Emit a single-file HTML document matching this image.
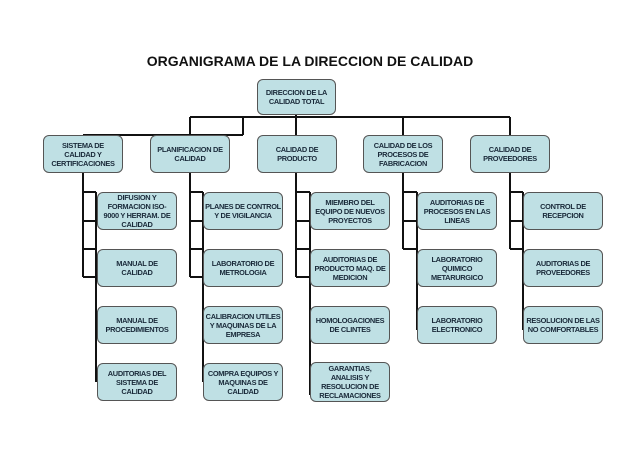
<!DOCTYPE html>
<html><head><meta charset="utf-8"><style>
body{margin:0;background:#fff;width:640px;height:452px;overflow:hidden;position:relative;font-family:"Liberation Sans",sans-serif}
.t{position:absolute;left:0;width:620px;top:53px;text-align:center;font-weight:bold;font-size:14px;color:#111}
.b{position:absolute;width:77px;height:36px;background:#bfe0e4;border:1.5px solid #555;border-radius:6px;box-sizing:border-box;display:flex;align-items:center;justify-content:center;text-align:center;font-weight:bold;font-size:7.4px;line-height:9px;color:#1a2a3a;z-index:2;white-space:nowrap;letter-spacing:-0.3px}
svg{position:absolute;left:0;top:0}
</style></head><body>
<div class="t">ORGANIGRAMA DE LA DIRECCION DE CALIDAD</div>
<svg width="640" height="452" stroke="#111" stroke-width="2" fill="none">
<path d="M296 115V117M190 117H510M190 117V135M296 117V135M403 117V135M510 117V135M243 117V135M83 135H243"/>
<path d="M83 173V277M96 192V382M83 192H96M83 221H96M83 249H96M83 277H96"/>
<path d="M190 173V277M203 192V382M190 192H203M190 221H203M190 249H203M190 277H203"/>
<path d="M296 173V277M310 192V395M296 192H310M296 221H310M296 249H310M296 277H310"/>
<path d="M403 173V249M417 192V330M403 192H417M403 221H417M403 249H417"/>
<path d="M510 173V249M523 192V330M510 192H523M510 221H523M510 249H523"/>
</svg>
<div class="b" style="left:257px;top:79px;width:79px">DIRECCION DE LA<br>CALIDAD TOTAL</div>
<div class="b" style="left:43px;top:135px;width:80px;height:38px">SISTEMA DE<br>CALIDAD Y<br>CERTIFICACIONES</div>
<div class="b" style="left:150px;top:135px;width:80px;height:38px">PLANIFICACION DE<br>CALIDAD</div>
<div class="b" style="left:257px;top:135px;width:80px;height:38px">CALIDAD DE<br>PRODUCTO</div>
<div class="b" style="left:363px;top:135px;width:80px;height:38px">CALIDAD DE LOS<br>PROCESOS DE<br>FABRICACION</div>
<div class="b" style="left:470px;top:135px;width:80px;height:38px">CALIDAD DE<br>PROVEEDORES</div>

<div class="b" style="left:97px;top:192px;width:80px;height:38px">DIFUSION Y<br>FORMACION ISO-<br>9000 Y HERRAM. DE<br>CALIDAD</div>
<div class="b" style="left:97px;top:249px;width:80px;height:38px">MANUAL DE<br>CALIDAD</div>
<div class="b" style="left:97px;top:306px;width:80px;height:38px">MANUAL DE<br>PROCEDIMIENTOS</div>
<div class="b" style="left:97px;top:363px;width:80px;height:38px">AUDITORIAS DEL<br>SISTEMA DE<br>CALIDAD</div>

<div class="b" style="left:203px;top:192px;width:80px;height:38px">PLANES DE CONTROL<br>Y DE VIGILANCIA</div>
<div class="b" style="left:203px;top:249px;width:80px;height:38px">LABORATORIO DE<br>METROLOGIA</div>
<div class="b" style="left:203px;top:306px;width:80px;height:38px">CALIBRACION UTILES<br>Y MAQUINAS DE LA<br>EMPRESA</div>
<div class="b" style="left:203px;top:363px;width:80px;height:38px">COMPRA EQUIPOS Y<br>MAQUINAS DE<br>CALIDAD</div>

<div class="b" style="left:310px;top:192px;width:80px;height:38px">MIEMBRO DEL<br>EQUIPO DE NUEVOS<br>PROYECTOS</div>
<div class="b" style="left:310px;top:249px;width:80px;height:38px">AUDITORIAS DE<br>PRODUCTO MAQ. DE<br>MEDICION</div>
<div class="b" style="left:310px;top:306px;width:80px;height:38px">HOMOLOGACIONES<br>DE CLINTES</div>
<div class="b" style="left:310px;top:362px;width:80px;height:40px">GARANTIAS,<br>ANALISIS Y<br>RESOLUCION DE<br>RECLAMACIONES</div>

<div class="b" style="left:417px;top:192px;width:80px;height:38px">AUDITORIAS DE<br>PROCESOS EN LAS<br>LINEAS</div>
<div class="b" style="left:417px;top:249px;width:80px;height:38px">LABORATORIO<br>QUIMICO<br>METARURGICO</div>
<div class="b" style="left:417px;top:306px;width:80px;height:38px">LABORATORIO<br>ELECTRONICO</div>

<div class="b" style="left:523px;top:192px;width:80px;height:38px">CONTROL DE<br>RECEPCION</div>
<div class="b" style="left:523px;top:249px;width:80px;height:38px">AUDITORIAS DE<br>PROVEEDORES</div>
<div class="b" style="left:523px;top:306px;width:80px;height:38px">RESOLUCION DE LAS<br>NO COMFORTABLES</div>
</body></html>
